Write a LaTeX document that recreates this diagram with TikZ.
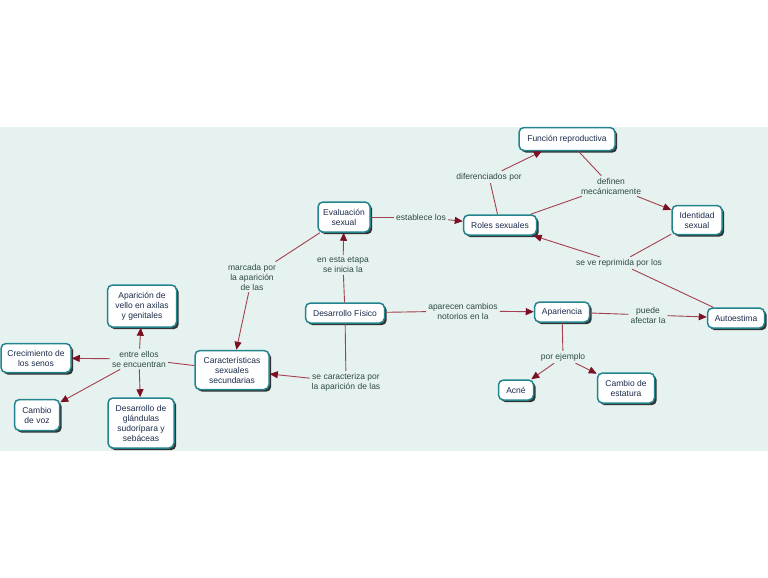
\documentclass[tikz,border=0pt]{standalone}
\usepackage{fontspec}
\setmainfont{Liberation Sans}
\usetikzlibrary{arrows.meta,shadows}
\definecolor{bgc}{HTML}{E6F2EF}
\definecolor{bordc}{HTML}{23848E}
\definecolor{nodetxt}{HTML}{1C2B4A}
\definecolor{lbltxt}{HTML}{2E4A44}
\definecolor{linkc}{HTML}{A3404F}
\definecolor{arrc}{HTML}{7B1024}
\begin{document}
\begin{tikzpicture}[x=1pt,y=-1pt,
  concept/.style={draw=bordc, line width=1.5pt, fill=white, rounded corners=5pt,
    align=center, font=\fontsize{8.5}{10}\selectfont, text=nodetxt, inner sep=0pt,
    drop shadow={shadow xshift=2.2pt, shadow yshift=-2.2pt, fill=black!80, opacity=1}},
  lbl/.style={align=center, font=\fontsize{8.5}{10}\selectfont, text=lbltxt, inner sep=2pt},
  link/.style={draw=linkc, line width=0.9pt},
  arr/.style={link, -{Triangle[length=8pt,width=7pt,color=arrc]}}
]
\useasboundingbox (0,0) rectangle (768,578);
\fill[white] (0,0) rectangle (768,578);
\fill[bgc] (0,127) rectangle (768,451);

% concepts
\node[concept, minimum width=96pt, minimum height=23pt] (fr) at (567,139) {Función reproductiva};
\node[concept, minimum width=50pt, minimum height=29pt] (id) at (697,220) {Identidad\\sexual};
\node[concept, minimum width=73pt, minimum height=20pt] (rs) at (500,225) {Roles sexuales};
\node[concept, minimum width=52pt, minimum height=30pt] (es) at (344,217) {Evaluación\\sexual};
\node[concept, minimum width=79pt, minimum height=20pt] (df) at (345,313) {Desarrollo Físico};
\node[concept, minimum width=55pt, minimum height=20pt] (ap) at (562,312) {Apariencia};
\node[concept, minimum width=57pt, minimum height=20pt] (au) at (736,318) {Autoestima};
\node[concept, minimum width=35pt, minimum height=20pt] (ac) at (516,390) {Acné};
\node[concept, minimum width=57pt, minimum height=30pt] (ce) at (626,388) {Cambio de\\estatura};
\node[concept, minimum width=74pt, minimum height=39pt] (cs) at (232,370) {Características\\sexuales\\secundarias};
\node[concept, minimum width=69pt, minimum height=42pt] (av) at (142,306) {Aparición de\\vello en axilas\\y genitales};
\node[concept, minimum width=70pt, minimum height=29pt] (cr) at (36,358) {Crecimiento de\\los senos};
\node[concept, minimum width=45pt, minimum height=31pt] (cv) at (37,415) {Cambio\\de voz};
\node[concept, minimum width=66pt, minimum height=50pt] (dg) at (141,423) {Desarrollo de\\glándulas\\sudorípara y\\sebáceas};

% link labels
\node[lbl] (l1) at (139,359) {entre ellos\\se encuentran};
\node[lbl] (l2) at (252,277) {marcada por\\la aparición\\de las};
\node[lbl] (l3) at (343,265) {en esta etapa\\se inicia la};
\node[lbl] (l4) at (346,382) {se caracteriza por\\la aparición de las};
\node[lbl] (l5) at (463,311) {aparecen cambios\\notorios en la};
\node[lbl] (l6) at (421,217) {establece los};
\node[lbl] (l7) at (489,177) {diferenciados por};
\node[lbl] (l8) at (611,186) {definen\\mecánicamente};
\node[lbl] (l9) at (619,263) {se ve reprimida por los};
\node[lbl] (l10) at (648,315) {puede\\afectar la};
\node[lbl] (l11) at (563,357) {por ejemplo};

% connectors
\draw[link] (df) -- (l3); \draw[arr] (l3) -- (es);
\draw[link] (es) -- (l2); \draw[arr] (l2) -- (cs);
\draw[link] (df) -- (l4); \draw[arr] (l4) -- (cs);
\draw[link] (df) -- (l5); \draw[arr] (l5) -- (ap);
\draw[link] (es) -- (l6); \draw[arr] (l6) -- (rs);
\draw[link] (rs) -- (l7); \draw[arr] (l7) -- (fr);
\draw[link] (fr) -- (l8); \draw[link] (rs) -- (l8); \draw[arr] (l8) -- (id);
\draw[link] (id) -- (l9); \draw[link] (au) -- (l9); \draw[arr] (l9) -- (rs);
\draw[link] (ap) -- (l10); \draw[arr] (l10) -- (au);
\draw[link] (ap) -- (l11); \draw[arr] (l11) -- (ac); \draw[arr] (l11) -- (ce);
\draw[link] (cs) -- (l1);
\draw[arr] (l1) -- (av); \draw[arr] (l1) -- (cr); \draw[arr] (l1) -- (cv); \draw[arr] (l1) -- (dg);
\end{tikzpicture}
\end{document}
